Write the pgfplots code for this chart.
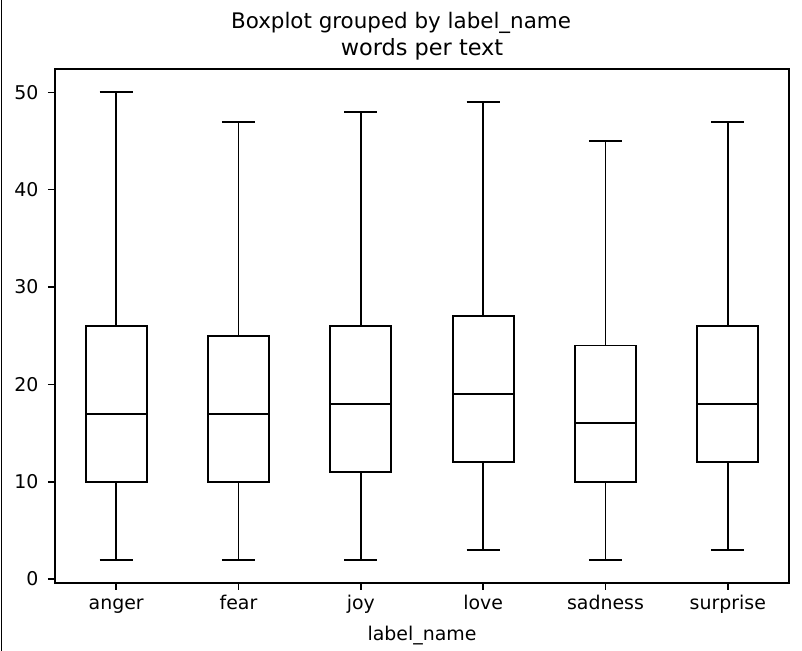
\documentclass[border=0pt]{standalone}
\usepackage{pgfplots}
\pgfplotsset{compat=1.18}
\usepgfplotslibrary{statistics}
\usepackage{fontspec}
\setmainfont{DejaVu Sans}

\begin{document}
\begin{tikzpicture}
\begin{axis}[
  name=ax,
  scale only axis, width=734bp, height=514bp,
  xmin=0.5, xmax=6.5, ymin=-0.4, ymax=52.4,
  xtick={1,2,3,4,5,6},
  xticklabels={anger,fear,joy,love,sadness,surprise},
  ytick={0,10,20,30,40,50},
  tick align=outside, tick pos=left,
  major tick length=7bp,
  every tick/.style={black, line width=1.5bp},
  axis line style={line width=1.5bp},
  /pgf/number format/assume math mode=true,
  tick label style={font=\fontsize{19}{22}\selectfont, text=black},
  yticklabel style={xshift=-6bp},
  xticklabel style={text height=14bp, text depth=4bp, yshift=-2bp},
  xlabel={label\_name},
  xlabel style={font=\fontsize{19}{22}\selectfont, yshift=-6bp},
  boxplot/draw direction=y,
  boxplot/box extend=0.5,
  boxplot/whisker extend=0.27,
]
\addplot[black, line width=1.9bp, boxplot prepared={draw position=1, lower whisker=2, lower quartile=10, median=17, upper quartile=26, upper whisker=50}] coordinates {};
\addplot[black, line width=1.9bp, boxplot prepared={draw position=2, lower whisker=2, lower quartile=10, median=17, upper quartile=25, upper whisker=47}] coordinates {};
\addplot[black, line width=1.9bp, boxplot prepared={draw position=3, lower whisker=2, lower quartile=11, median=18, upper quartile=26, upper whisker=48}] coordinates {};
\addplot[black, line width=1.9bp, boxplot prepared={draw position=4, lower whisker=3, lower quartile=12, median=19, upper quartile=27, upper whisker=49}] coordinates {};
\addplot[black, line width=1.9bp, boxplot prepared={draw position=5, lower whisker=2, lower quartile=10, median=16, upper quartile=24, upper whisker=45}] coordinates {};
\addplot[black, line width=1.9bp, boxplot prepared={draw position=6, lower whisker=3, lower quartile=12, median=18, upper quartile=26, upper whisker=47}] coordinates {};
\end{axis}
\node[anchor=base, font=\fontsize{21.5}{24}\selectfont] at ([xshift=346bp, yshift=40bp]ax.north west) {Boxplot grouped by label\_name};
\node[anchor=base, font=\fontsize{22.5}{26}\selectfont] at ([yshift=13bp]ax.north) {words per text};
\draw[line width=1.5bp] ([xshift=-53.3bp, yshift=-68bp]ax.south west) -- ([xshift=-53.3bp, yshift=69bp]ax.north west);
\pgfresetboundingbox
\path[use as bounding box] ([xshift=-55bp, yshift=-68bp]ax.south west) rectangle ([xshift=13bp, yshift=69bp]ax.north east);
\end{tikzpicture}
\end{document}
